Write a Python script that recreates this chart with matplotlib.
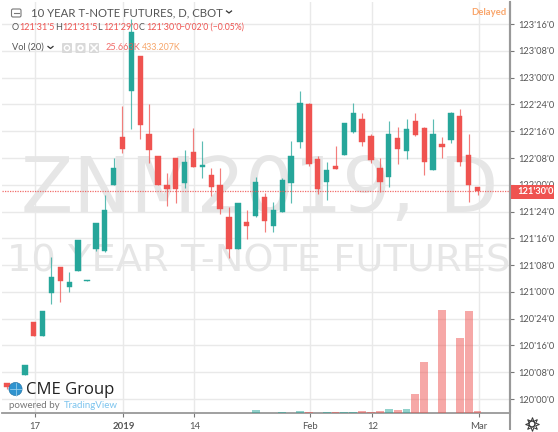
import matplotlib
matplotlib.use("Agg")
import matplotlib.pyplot as plt
from matplotlib.patches import Circle, Rectangle, FancyBboxPatch
from matplotlib.ticker import FixedLocator, FixedFormatter

slots = list(range(54))
opens = [120.145,None,120.227,120.716,120.588,120.993,121.230,121.043,121.198,121.100,121.403,121.382,121.998,122.449,
         122.873,123.205,122.472,122.266,122.001,122.250,122.014,122.309,122.170,122.089,122.001,121.699,121.403,121.655,
         121.711,121.889,121.615,121.743,122.014,122.402,122.752,122.238,122.026,122.173,122.278,122.496,122.612,122.453,
         122.154,122.073,122.434,122.318,122.596,122.530,122.135,122.378,122.418,122.640,122.278,121.979]
closes = [120.115,None,120.320,120.588,120.824,121.136,121.102,121.090,121.482,121.110,121.640,121.765,122.154,122.334,
          123.424,122.558,122.322,121.998,121.961,121.961,122.213,122.169,122.182,121.979,121.777,121.403,121.827,121.615,
          122.029,121.665,121.765,122.045,122.269,122.767,122.194,121.961,122.141,122.150,122.574,122.670,122.402,122.232,
          122.026,122.472,122.337,122.518,122.465,122.210,122.472,122.356,122.670,122.210,121.998,121.9375]
highs = [120.145,None,120.320,120.716,120.824,121.326,121.230,121.186,121.482,121.110,121.640,121.905,122.250,122.736,
         123.548,123.205,122.752,122.266,122.113,122.250,122.325,122.528,122.406,122.154,122.154,121.795,121.827,121.765,
         122.076,121.923,121.842,122.063,122.406,122.879,122.764,122.269,122.216,122.362,122.574,122.767,122.668,122.472,
         122.247,122.596,122.542,122.612,122.668,122.542,122.612,122.449,122.683,122.708,122.472,121.979]
lows = [120.093,None,120.227,120.588,120.588,120.890,120.906,120.999,121.198,121.100,121.382,121.377,121.998,122.300,
        122.521,122.428,122.206,121.998,121.802,121.830,121.970,122.169,122.066,121.895,121.727,121.314,121.403,121.497,
        121.699,121.562,121.562,121.743,121.833,122.341,122.178,121.911,121.858,122.150,122.278,122.481,122.365,122.206,
        121.933,121.982,122.191,122.241,122.458,122.094,122.135,122.253,122.393,122.176,121.842,121.905]
vol_k = {28:36,31:18,33:21,34:15,36:15,37:15,38:15,39:15,40:25,41:15,42:21,43:56,44:41,45:56,
         46:280,47:756,49:1545,51:1120,52:1521,53:25.663}
price_ticks = [120+0.25*i for i in range(15)]
date_pos = [3.1,13.1,21.1,34.15,41.15,53.15]
date_labels = ["17","2019","14","Feb","12","Mar"]
last_price = 121.9375
header_title = "10 YEAR T-NOTE FUTURES, D, CBOT"

GREEN, RED = "#26a69a", "#ef5350"
W, H = 558, 432
plt.rcParams['font.family'] = ['Lato', 'DejaVu Sans']
fig = plt.figure(figsize=(W/100, H/100), dpi=100, facecolor="white")

L, R, T, B = 2, 510, 2, 412.7
rect = [L/W, 1-B/H, (R-L)/W, (B-T)/H]
ax = fig.add_axes(rect)
ax.set_xlim((L-7.1)/8.876, (R-7.1)/8.876)
ax.set_ylim(120-(B-399)/107.1, 120+(399-T)/107.1)

def fmt(p):
    whole = int(p)
    return f"{whole}'{int(round((p-whole)*32)):02d}'0"

ax.yaxis.tick_right()
ax.yaxis.set_major_locator(FixedLocator(price_ticks))
ax.yaxis.set_major_formatter(FixedFormatter([fmt(p) for p in price_ticks]))
ax.xaxis.set_major_locator(FixedLocator(date_pos))
ax.xaxis.set_major_formatter(FixedFormatter(date_labels))
ax.tick_params(axis='y', length=3, width=0.8, color="#777777", labelsize=6.7, labelcolor="#555555", pad=3)
ax.tick_params(axis='x', length=3, width=0.8, color="#777777", labelsize=6.9, labelcolor="#555555", pad=4)
ax.get_xticklabels()[1].set_fontweight("bold")
ax.grid(True, color="#e9e9e9", lw=1)
ax.set_axisbelow(True)
for s in ("top", "left"):
    ax.spines[s].set_visible(False)
ax.spines["right"].set_color("#999999")
ax.spines["right"].set_linewidth(1.5)
ax.spines["bottom"].set_color("#999999")
ax.spines["bottom"].set_linewidth(1.3)

# watermark
ax.text(0.037, 0.4887, "ZNM2019, D", transform=ax.transAxes, fontsize=55, color="#e6e6e6",
        family="DejaVu Sans", ha="left", va="baseline", zorder=1)
ax.text(0.010, 0.345, "10 YEAR T-NOTE FUTURES", transform=ax.transAxes, fontsize=27.6, color="#e6e6e6",
        family="DejaVu Sans", ha="left", va="baseline", zorder=1)

# candles
for k, o, c, h, l in zip(slots, opens, closes, highs, lows):
    if o is None:
        continue
    col = GREEN if c >= o else RED
    ax.vlines(k, l, h, color=col, lw=0.85, alpha=0.75, zorder=3)
    ax.bar(k, abs(c-o), bottom=min(o, c), width=0.6, color=col, edgecolor=col, lw=0.3, zorder=4)

ax.axhline(last_price, color=RED, lw=0.9, ls=(0, (1, 1)), alpha=0.85, zorder=5)

# volume, on its own scale over the same time axis
axv = fig.add_axes(rect, sharex=ax, zorder=2)
axv.set_ylim(0, (B-T)*15)
axv.axis("off")
axv.patch.set_visible(False)
for k, v in vol_k.items():
    col = GREEN if closes[k] >= opens[k] else RED
    axv.bar(k, v, width=0.88, color=col, alpha=0.5, lw=0)

# chrome overlay, in pixels
ov = fig.add_axes([0, 0, 1, 1], zorder=10)
ov.set_xlim(0, W); ov.set_ylim(H, 0); ov.axis("off"); ov.patch.set_visible(False)
ov.plot([510, 510], [2, 430], color="#999999", lw=1.5, solid_capstyle="butt")
ov.add_patch(Rectangle((510, 185), 44, 13.5, color=RED, lw=0))
ov.text(517, 191.5, fmt(last_price), color="white", fontsize=6.7, fontweight="bold", va="center", ha="left")
ov.text(471, 12.5, "Delayed", color="#f9a66c", fontsize=6.8, fontweight="bold", va="center")

ov.add_patch(FancyBboxPatch((11.5, 9), 9.5, 8, boxstyle="round,pad=0,rounding_size=1.5", fc="none", ec="#777777", lw=0.8))
ov.plot([13.5, 19], [13, 13], color="#777777", lw=0.8)
ov.text(31, 13, header_title, color="#555555", fontsize=8.2, va="center")
ov.plot([226.5, 229, 231.5], [11, 13, 11], color="#333333", lw=0.9)

GRAY = "#555555"
for x, s, c in [(12, "O", GRAY), (19, "121'31'5", RED), (55, "H", GRAY), (62, "121'31'5", RED), (97, "L", GRAY),
                (103, "121'29'0", RED), (139, "C", GRAY), (146, "121'30'0", RED)]:
    ov.text(x, 27, s, color=c, fontsize=6.5, va="center")
ov.text(180, 27, "\u22120'02'0 (\u22120.05%)", color=RED, fontsize=6.2, va="center")
ov.text(12, 47.5, "Vol (20)", color=GRAY, fontsize=6.7, va="center")
ov.plot([48, 50.5, 53], [46.5, 48.5, 46.5], color="#333333", lw=0.9)
for x in (67, 80.5, 94):
    ov.add_patch(FancyBboxPatch((x-5, 43), 10, 10, boxstyle="round,pad=0,rounding_size=1", fc="#d9d9d9", ec="none"))
ov.add_patch(Circle((67, 48), 2.6, fc="none", ec="white", lw=1))
ov.add_patch(Circle((80.5, 48), 2.4, fc="none", ec="white", lw=1.3))
ov.plot([91, 97], [45, 51], color="white", lw=1.1)
ov.plot([91, 97], [51, 45], color="white", lw=1.1)
ov.text(106, 48, "25.663K", color=RED, fontsize=6.6, alpha=0.85, va="center")
ov.text(142, 48, "433.207K", color="#f7a66a", fontsize=6.4, va="center")

# logo
ov.add_patch(Circle((15.5, 389), 6.6, fc="#2f93cf", ec="#1f6f9f", lw=0.4))
ov.plot([9.5, 21.5], [389, 389], color="#a8d8ef", lw=0.5)
ov.plot([15.5, 15.5], [382.5, 395.5], color="#a8d8ef", lw=0.5)
ov.text(25.5, 389.5, "CME Group", color="#222222", fontsize=12, fontweight="medium", family="Open Sans", va="center")
ov.text(9, 405, "powered by", color="#777777", fontsize=7, va="center")
ov.text(64, 405, "TradingView", color="#7cc4ee", fontsize=7, va="center")

# gear
ov.plot([532], [424], marker=(8, 1, 0), ms=10, mfc="none", mec="#333333", mew=0.7)
ov.add_patch(Circle((532, 424), 3, fc="white", ec="#333333", lw=1, zorder=5))

fig.savefig("out.png", dpi=100, facecolor="white")
